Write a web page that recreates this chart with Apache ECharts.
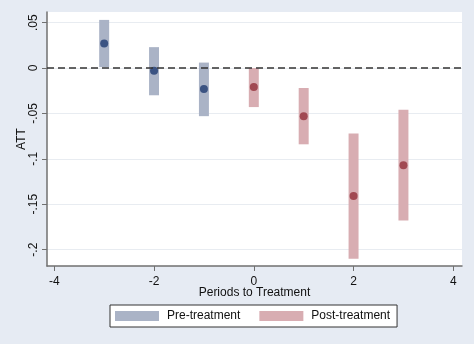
<!DOCTYPE html>
<html>
<head>
<meta charset="utf-8">
<script src="https://cdn.jsdelivr.net/npm/echarts@6/dist/echarts.min.js"></script>
<style>
html,body{margin:0;padding:0;background:#e6ebf3;}
#c{width:474px;height:344px;}
</style>
</head>
<body>
<div id="c"></div>
<script>
// Data
const prePeriods = [-3, -2, -1];
const preEst = [0.027, -0.003, -0.023];
const preLow = [0.001, -0.030, -0.053];
const preHigh = [0.053, 0.023, 0.006];

const postPeriods = [0, 1, 2, 3];
const postEst = [-0.021, -0.053, -0.141, -0.107];
const postLow = [-0.043, -0.084, -0.210, -0.168];
const postHigh = [0.000, -0.022, -0.072, -0.046];

const xTicks = [-4, -2, 0, 2, 4];
const yTicks = [-0.2, -0.15, -0.1, -0.05, 0, 0.05];
const yTickLabels = ['-.2', '-.15', '-.1', '-.05', '0', '.05'];

const BAR_W = 0.2;
const FONT = 'Liberation Sans, Arial, sans-serif';

function rangeData(xs, lo, hi) { return xs.map((x, i) => [x, lo[i], hi[i]]); }
function pointData(xs, ys) { return xs.map((x, i) => [x, ys[i]]); }

function renderRange(params, api) {
  const x = api.value(0), lo = api.value(1), hi = api.value(2);
  const p1 = api.coord([x, hi]);
  const p2 = api.coord([x, lo]);
  const w = api.size([BAR_W, 0])[0];
  return {
    type: 'rect',
    shape: { x: p1[0] - w / 2, y: p1[1], width: w, height: p2[1] - p1[1] },
    style: { fill: api.visual('color') }
  };
}

const chart = echarts.init(document.getElementById('c'), null, { renderer: 'canvas' });
chart.setOption({
  backgroundColor: '#e6ebf3',
  animation: false,
  textStyle: { fontFamily: FONT },
  grid: { left: 47, right: 12, top: 12, bottom: 78, show: true, backgroundColor: '#ffffff', borderWidth: 0 },
  legend: {
    data: [{ name: 'Pre-treatment', icon: 'rect' }, { name: 'Post-treatment', icon: 'rect' }],
    left: 110, top: 305,
    itemWidth: 44, itemHeight: 10, itemGap: 19,
    padding: [5, 7, 5, 5],
    backgroundColor: '#ffffff',
    borderColor: '#333333', borderWidth: 1, borderRadius: 0,
    textStyle: { fontSize: 12, color: '#111', fontFamily: FONT, padding: [0, 0, 0, 3] },
    selectedMode: false
  },
  xAxis: {
    type: 'value',
    min: -4.146, max: 4.174,
    name: 'Periods to Treatment', nameLocation: 'middle', nameGap: 21, nameMoveOverlap: false,
    nameTextStyle: { fontSize: 12, color: '#111', fontFamily: FONT },
    axisLine: { show: true, onZero: false, lineStyle: { color: '#707070', width: 1.5 } },
    axisTick: { show: true, length: 5, customValues: xTicks, lineStyle: { color: '#707070', width: 1 } },
    axisLabel: { customValues: xTicks, fontSize: 12, color: '#111', margin: 10, fontFamily: FONT },
    splitLine: { show: false }
  },
  yAxis: {
    type: 'value',
    min: -0.218, max: 0.0617,
    name: 'ATT', nameLocation: 'middle', nameGap: 19, nameRotate: 90, nameMoveOverlap: false,
    nameTextStyle: { fontSize: 12, color: '#111', fontFamily: FONT },
    axisLine: { show: true, onZero: false, lineStyle: { color: '#707070', width: 1.5 } },
    axisTick: { show: true, length: 5, customValues: yTicks, lineStyle: { color: '#707070', width: 1 } },
    axisLabel: {
      customValues: yTicks, rotate: 90, fontSize: 12, color: '#111', margin: 7, fontFamily: FONT,
      formatter: v => { const i = yTicks.findIndex(t => Math.abs(t - v) < 1e-9); return i >= 0 ? yTickLabels[i] : ''; }
    },
    splitLine: { show: true, lineStyle: { color: '#e8ecf1', width: 1 } }
  },
  series: [
    { name: 'Pre-treatment', type: 'custom', renderItem: renderRange, itemStyle: { color: '#aab3c6' },
      data: rangeData(prePeriods, preLow, preHigh), encode: { x: 0, y: [1, 2] }, z: 2 },
    { name: 'Post-treatment', type: 'custom', renderItem: renderRange, itemStyle: { color: '#d8adb2' },
      data: rangeData(postPeriods, postLow, postHigh), encode: { x: 0, y: [1, 2] }, z: 2,
      markLine: { silent: true, symbol: 'none', label: { show: false },
        lineStyle: { type: [7, 4], color: '#333333', width: 1.5 },
        data: [{ yAxis: 0 }], z: 10 } },
    { name: 'preEst', type: 'scatter', symbol: 'circle', symbolSize: 8, itemStyle: { color: '#1f3b70' },
      data: pointData(prePeriods, preEst), z: 5 },
    { name: 'postEst', type: 'scatter', symbol: 'circle', symbolSize: 8, itemStyle: { color: '#94303a' },
      data: pointData(postPeriods, postEst), z: 5 }
  ]
});
</script>
</body>
</html>
